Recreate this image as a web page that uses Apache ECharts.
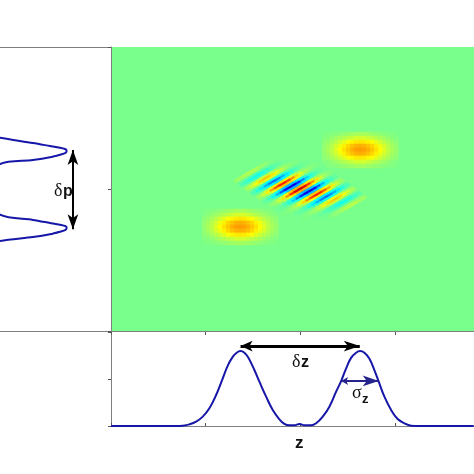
<!DOCTYPE html>
<html><head><meta charset="utf-8">
<style>html,body{margin:0;padding:0;background:#fff}#c{width:474px;height:474px;filter:blur(0.5px)}</style>
<script src="https://cdn.jsdelivr.net/npm/echarts@6/dist/echarts.min.js"></script>
</head><body><div id="c"></div>
<script>
// Bottom panel: density along z
var zProfileZ=[-2,-1.313,-1.243,-1.172,-1.101,-1.031,-.961,-.89,-.82,-.768,-.715,-.673,-.634,-.591,-.549,-.486,-.433,-.362,-.292,-.222,-.169,-.116,-.063,-.011,.042,.113,.166,.236,.306,.377,.43,.483,.535,.588,.63,.676,.729,.781,.827,.887,.958,1.027,1.098,1.169,1.257,1.83];
var zProfileV=[0,0,.007,.035,.092,.199,.376,.66,1.014,1.28,1.47,1.56,1.596,1.56,1.45,1.191,.943,.624,.34,.142,.043,.014,.014,.043,.014,.014,.057,.199,.411,.73,.957,1.227,1.45,1.56,1.596,1.56,1.43,1.191,.943,.624,.34,.149,.057,.007,0,0];
// Left panel: density along p
var pProfileV=[-.4,0,.495,.75,.9,.985,1,.985,.9,.75,.495,0,-.4,0,.495,.75,.9,.985,1,.985,.9,.75,.495,0,-.4];
var pProfileP=[.6,.542,.486,.454,.435,.42,.401,.382,.362,.335,.306,.264,0,-.271,-.327,-.359,-.378,-.393,-.412,-.431,-.451,-.478,-.507,-.549,-.62];
// Wigner map: value x100 in cells; rows from high p to low p
var blobCenterZ=[-.634,.634];
var blobCenterP=[-.401,.412];
var blobRows=[
[1,2,2,3,4,5,6,7,8,8,8,7,6,5,4,3,2,2,1],
[2,3,5,7,9,11,13,15,17,17,17,15,13,11,9,7,5,3,2],
[4,6,9,12,16,20,24,27,29,30,29,27,24,20,16,12,9,6,4],
[5,8,12,17,22,28,33,37,40,41,40,37,33,28,22,17,12,8,5],
[6,9,13,19,25,31,36,41,44,45,44,41,36,31,25,19,13,9,6],
[5,8,12,17,22,28,33,37,40,41,40,37,33,28,22,17,12,8,5],
[4,6,9,12,16,20,24,27,29,30,29,27,24,20,16,12,9,6,4],
[2,3,5,7,9,11,13,15,17,17,17,15,13,11,9,7,5,3,2],
[1,2,2,3,4,5,6,7,8,8,8,7,6,5,4,3,2,2,1]];
var cellStep=.0422;
// Interference fringes: each row runs along a stripe, rows step across the stripes
var fringeRows=[
[7,9,11,12,11,9,6,4,2,0,0,0,0,0,0],
[4,5,6,7,7,6,4,3,1,0,0,0,0,0,0],
[-4,-6,-8,-9,-9,-8,-6,-4,-2,-1,0,0,0,0,0],
[-9,-14,-18,-21,-22,-19,-15,-10,-6,-3,-1,0,0,0,0],
[-5,-7,-10,-12,-13,-12,-9,-7,-4,-2,-1,0,0,0,0],
[5,8,11,14,15,14,12,8,5,3,1,0,0,0,0],
[10,17,25,32,36,35,30,22,14,8,4,2,1,0,0],
[5,9,13,17,20,20,17,13,9,5,3,1,0,0,0],
[-5,-9,-13,-18,-22,-23,-21,-17,-11,-7,-4,-2,-1,0,0],
[-10,-18,-29,-40,-49,-53,-49,-40,-29,-18,-10,-5,-2,-1,0],
[-5,-9,-15,-22,-27,-30,-29,-24,-18,-11,-6,-3,-1,0,0],
[4,8,14,21,28,32,31,27,20,14,8,4,2,1,0],
[8,16,28,43,58,68,69,62,48,33,19,10,5,2,1],
[4,7,13,21,29,35,37,34,27,19,12,6,3,1,0],
[-3,-7,-12,-20,-29,-36,-39,-37,-30,-22,-14,-8,-4,-2,-1],
[-5,-12,-23,-39,-57,-73,-81,-79,-68,-50,-33,-18,-9,-4,-1],
[-2,-5,-10,-18,-27,-36,-41,-41,-36,-28,-19,-11,-6,-2,-1],
[2,4,9,16,25,35,41,43,39,31,21,13,7,3,1],
[3,7,16,30,47,66,81,87,81,66,47,30,16,7,3],
[1,3,7,13,21,31,39,43,41,35,25,16,9,4,2],
[-1,-2,-6,-11,-19,-28,-36,-41,-41,-36,-27,-18,-10,-5,-2],
[-1,-4,-9,-18,-33,-50,-68,-79,-81,-73,-57,-39,-23,-12,-5],
[-1,-2,-4,-8,-14,-22,-30,-37,-39,-36,-29,-20,-12,-7,-3],
[0,1,3,6,12,19,27,34,37,35,29,21,13,7,4],
[1,2,5,10,19,33,48,62,69,68,58,43,28,16,8],
[0,1,2,4,8,14,20,27,31,32,28,21,14,8,4],
[0,0,-1,-3,-6,-11,-18,-24,-29,-30,-27,-22,-15,-9,-5],
[0,-1,-2,-5,-10,-18,-29,-40,-49,-53,-49,-40,-29,-18,-10],
[0,0,-1,-2,-4,-7,-11,-17,-21,-23,-22,-18,-13,-9,-5],
[0,0,0,1,3,5,9,13,17,20,20,17,13,9,5],
[0,0,1,2,4,8,14,22,30,35,36,32,25,17,10],
[0,0,0,0,1,3,5,8,12,14,15,14,11,8,5],
[0,0,0,0,-1,-2,-4,-7,-9,-12,-13,-12,-10,-7,-5],
[0,0,0,0,-1,-3,-6,-10,-15,-19,-22,-21,-18,-14,-9],
[0,0,0,0,0,-1,-2,-4,-6,-8,-9,-9,-8,-6,-4],
[0,0,0,0,0,0,1,3,4,6,7,7,6,5,4],
[0,0,0,0,0,0,2,4,6,9,11,12,11,9,7]];
var fringeAlongStep=.05, fringeAcrossStep=.0235, fringeSkew=.0105;
var fringeAlong=[.86,.5], fringeAcross=[.5,-.86];
// Annotation texts
var labelZ='z', labelDelta='δ', labelSigma='σ', labelP='p';

var cells=[];
function addRows(rows,cz,cp){
  var nr=rows.length,nc=rows[0].length;
  rows.forEach(function(r,j){r.forEach(function(v,i){
    if(v!==0)cells.push([cz+(i-(nc-1)/2)*cellStep,cp+((nr-1)/2-j)*cellStep,v/100]);
  });});
}
blobCenterZ.forEach(function(z,i){addRows(blobRows,z,blobCenterP[i]);});
var fringeCells=[];
fringeRows.forEach(function(r,j){
  var k=j-(fringeRows.length-1)/2;
  r.forEach(function(v,i){
    if(v===0)return;
    var u=(i-(r.length-1)/2)*fringeAlongStep+k*fringeSkew, w=k*fringeAcrossStep;
    fringeCells.push([u*fringeAlong[0]+w*fringeAcross[0],u*fringeAlong[1]+w*fringeAcross[1],v/100]);
  });
});

var gray='#7f7f7f',curve='#1616a8';
var lineOn={show:true,onZero:false,lineStyle:{color:gray,width:1}};
var axisBase={axisLabel:{show:false},splitLine:{show:false},axisLine:{show:false,onZero:false},axisTick:{show:false}};
function ax(o){return Object.assign({},axisBase,o);}
var tick=function(inside){return {show:true,inside:inside,length:3,lineStyle:{color:'#555',width:1}};};
var chart=echarts.init(document.getElementById('c'),null,{renderer:'canvas'});
var sans='"Liberation Sans",Arial,sans-serif', serif='"Liberation Serif","Times New Roman",serif';
function txt(t,x,y,size,bold,fam){return {type:'text',left:x,top:y,z:50,style:{text:t,font:(bold?'bold ':'')+size+'px '+fam,fill:'#111'}};}
chart.setOption({
 animation:false,backgroundColor:'#fff',
 grid:[
  {left:0,top:47,width:111,height:284},
  {left:111,top:47,width:363,height:284,show:true,backgroundColor:'#78ff8c',borderWidth:0},
  {left:111,top:332,width:363,height:94}
 ],
 xAxis:[
  ax({type:'value',gridIndex:0,min:0,max:1.667,position:'bottom',axisLine:lineOn}),
  ax({type:'value',gridIndex:0,min:0,max:1.667,position:'top',axisLine:lineOn}),
  ax({type:'value',gridIndex:1,min:-2,max:1.833,interval:1,position:'bottom',axisLine:lineOn}),
  ax({type:'value',gridIndex:2,min:-2,max:1.833,interval:1,position:'bottom',axisLine:lineOn,axisTick:tick(true)}),
  ax({type:'value',gridIndex:2,min:-2,max:1.833,interval:1,position:'top',axisTick:tick(true)})
 ],
 yAxis:[
  ax({type:'value',gridIndex:0,min:-1.5,max:1.5,interval:1.5,position:'right',axisLine:lineOn,axisTick:tick(true)}),
  ax({type:'value',gridIndex:1,min:-1.5,max:1.5,interval:1.5}),
  ax({type:'value',gridIndex:2,min:0,max:2,interval:1,position:'left',axisLine:lineOn,axisTick:tick(false)})
 ],
 visualMap:{show:false,seriesIndex:[0,1],dimension:2,min:-1,max:1,
  inRange:{color:['#000080','#0000ff','#0080ff','#00ffff','#78ff8c','#ffff00','#ff8000','#ff0000','#800000']}},
 series:[
  {type:'custom',xAxisIndex:2,yAxisIndex:1,coordinateSystem:'cartesian2d',data:cells,silent:true,clip:true,
   encode:{x:0,y:1},
   renderItem:function(p,api){
     var c=api.coord([api.value(0),api.value(1)]),s=api.size([cellStep,cellStep]);
     return {type:'rect',shape:{x:c[0]-s[0]/2-.3,y:c[1]-s[1]/2-.3,width:s[0]+.6,height:s[1]+.6},style:{fill:api.visual('color')}};
   }},
  {type:'custom',xAxisIndex:2,yAxisIndex:1,coordinateSystem:'cartesian2d',data:fringeCells,silent:true,clip:true,
   encode:{x:0,y:1},
   renderItem:function(p,api){
     var z=api.value(0),q=api.value(1),a=fringeAlongStep*.55,b=fringeAcrossStep*.62;
     var pts=[[-a,-b],[a,-b],[a,b],[-a,b]].map(function(t){
       return api.coord([z+t[0]*fringeAlong[0]+t[1]*fringeAcross[0],q+t[0]*fringeAlong[1]+t[1]*fringeAcross[1]]);
     });
     return {type:'polygon',shape:{points:pts},style:{fill:api.visual('color')}};
   }},
  {type:'line',xAxisIndex:0,yAxisIndex:0,data:pProfileV.map(function(v,i){return [v,pProfileP[i]];}),
   smooth:.3,showSymbol:false,clip:true,lineStyle:{color:curve,width:2},silent:true,
   markLine:{silent:true,symbol:['arrow','arrow'],symbolSize:[8,15],label:{show:false},lineStyle:{color:'#000',width:2,type:'solid'},
     data:[[{coord:[1.095,.412]},{coord:[1.095,-.425]}]]}},
  {type:'line',xAxisIndex:3,yAxisIndex:2,data:zProfileZ.map(function(z,i){return [z,zProfileV[i]];}),
   smooth:.4,showSymbol:false,clip:false,lineStyle:{color:curve,width:2},silent:true,
   markLine:{silent:true,symbol:['arrow','arrow'],label:{show:false},
     data:[
      [{coord:[-.632,1.7],symbolSize:[8,12],lineStyle:{color:'#000',width:3,type:'solid'}},{coord:[.627,1.7]}],
      [{coord:[.43,.96],symbolSize:[6,7],lineStyle:{color:'#24248c',width:2,type:'solid'}},{coord:[.827,.96]}]
     ]}}
 ],
 graphic:[
  txt(labelDelta,54,182,18,false,serif),txt(labelP,63,184,16,true,sans),
  txt(labelDelta,292,353,18,false,serif),txt(labelZ,301,355,16,true,sans),
  txt(labelSigma,352,384,18,false,serif),txt(labelZ,362,393,13,true,sans),
  txt(labelZ,295,435,17,true,sans)
 ]
});
</script></body></html>
